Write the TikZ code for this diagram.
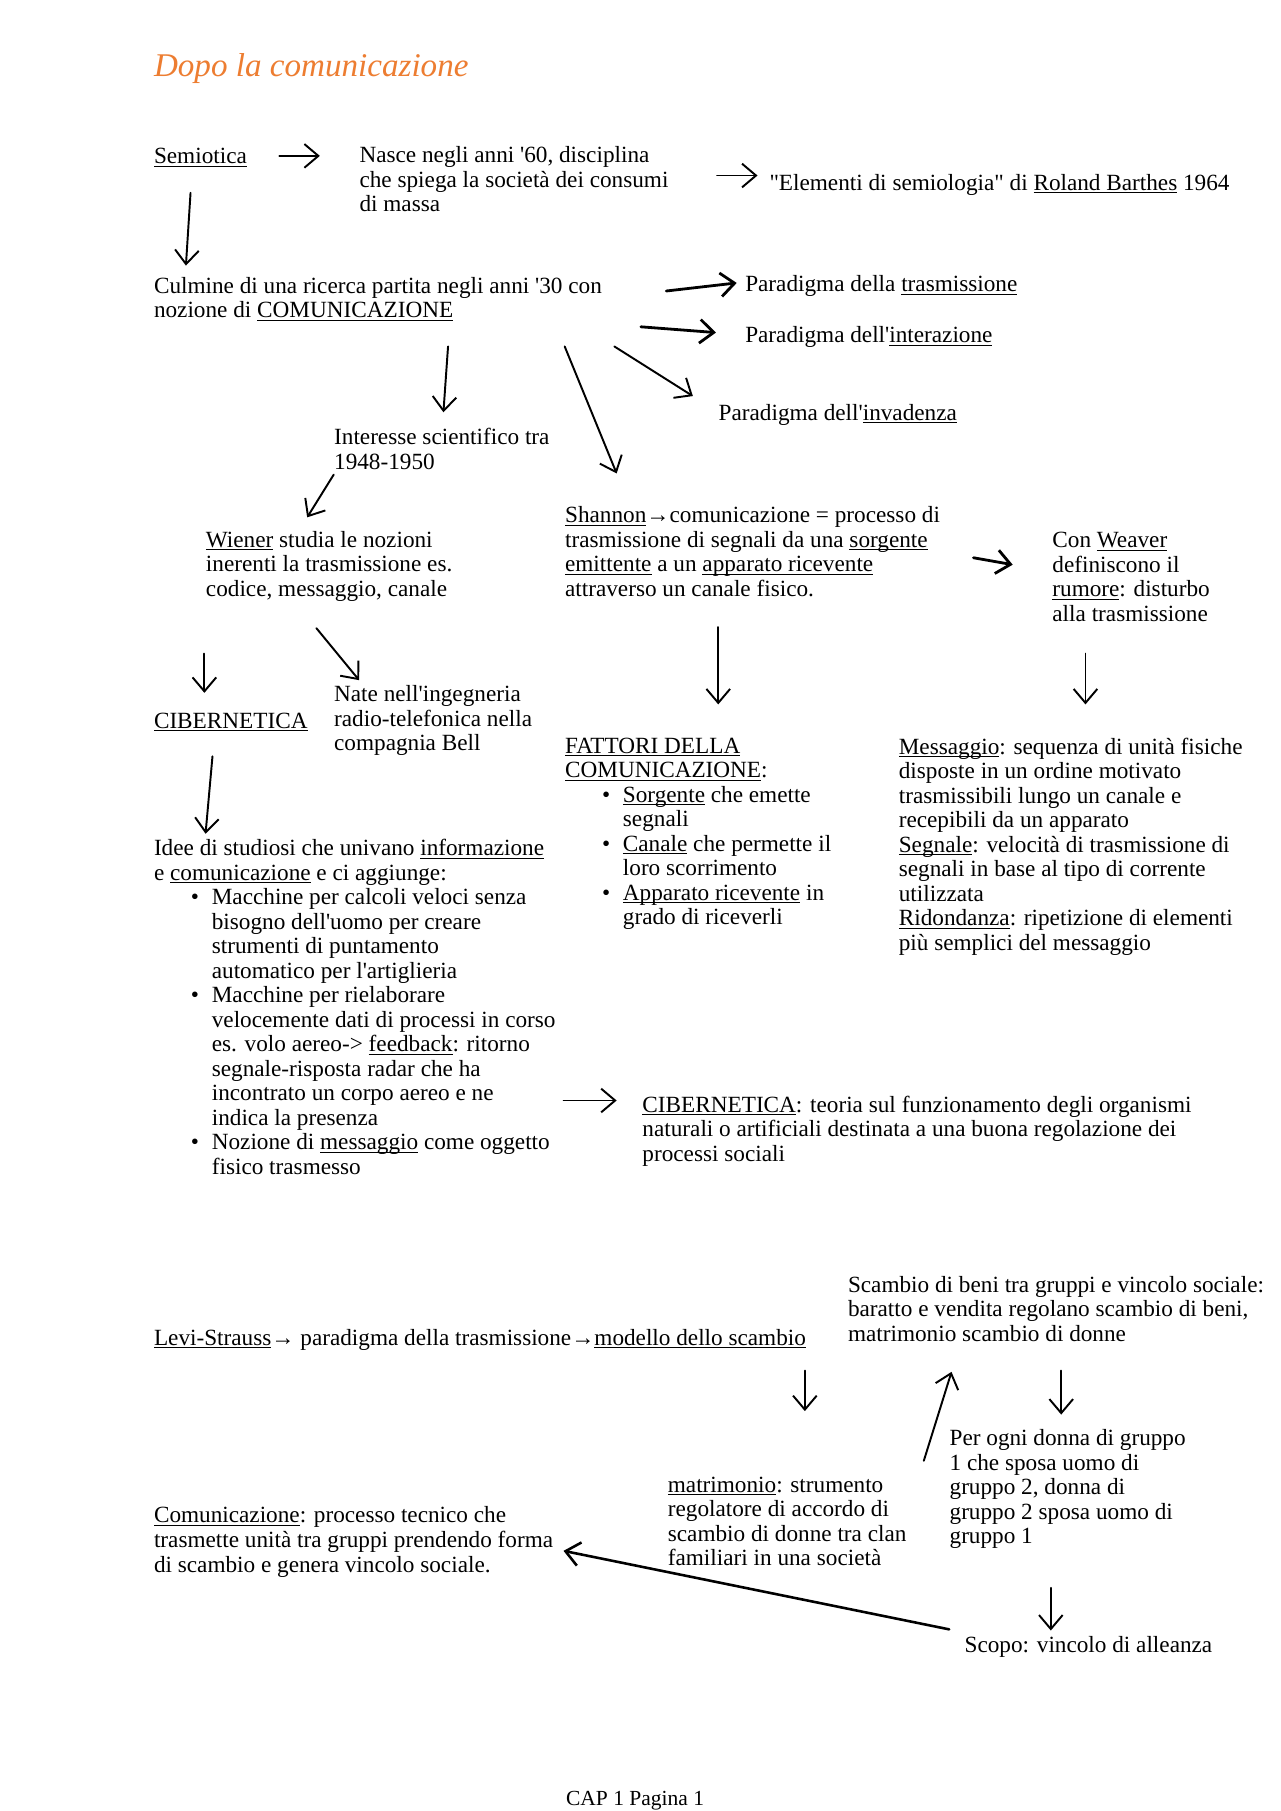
\documentclass[tikz,border=0pt]{standalone}
\usepackage{fontspec}
\setmainfont{Liberation Serif}[Ligatures=TeXOff]
\usetikzlibrary{arrows.meta}

\definecolor{titleorange}{RGB}{237,125,49}
% bullet lines and their continuation lines
\newcommand{\bpt}{\hspace*{17.2pt}\makebox[9.7pt][l]{\textbullet}}
\newcommand{\bcont}{\hspace*{26.9pt}}
% underline close to the baseline
\newcommand{\uln}[1]{\leavevmode\setbox0\hbox{#1}\rlap{\rule[-1.4pt]{\wd0}{0.5pt}}\box0\relax}

\tikzset{
  txt/.style={anchor=north west, inner sep=0pt, align=left, yshift=-1.9pt,
    font=\fontsize{10.8}{11.4}\selectfont, execute at begin node=\strut},
  arr/.style={line width=0.9pt, line cap=round, ->},
}

\begin{document}
\begin{tikzpicture}[x=0.5371pt, y=-0.5371pt, >={Straight Barb[length=6.5pt,width=11pt]}]
\useasboundingbox[fill=white] (0,0) rectangle (1108.5,1568.3);

% title
\node[anchor=base west, inner sep=0pt, text=titleorange,
  font=\fontsize{15.4}{18}\itshape] (title) at (133,66) {Dopo la comunicazione};

% upper map
\node[txt] (semiotica) at (133,123) {\uln{Semiotica}};
\node[txt] (nasce) at (311,123) {Nasce negli anni '60, disciplina\\che spiega la società dei consumi\\di massa};
\node[txt] (barthes) at (666,146) {"Elementi di semiologia" di \uln{Roland Barthes} 1964};
\node[txt] (culmine) at (133,236) {Culmine di una ricerca partita negli anni '30 con\\nozione di \uln{COMUNICAZIONE}};
\node[txt] (ptrasm) at (645,234) {Paradigma della \uln{trasmissione}};
\node[txt] (pinter) at (645,278) {Paradigma dell'\uln{interazione}};
\node[txt] (pinvad) at (622,345) {Paradigma dell'\uln{invadenza}};
\node[txt] (interesse) at (289,367) {Interesse scientifico tra\\1948-1950};
\node[txt] (wiener) at (178,456) {\uln{Wiener} studia le nozioni\\inerenti la trasmissione es.\\codice, messaggio, canale};
\node[txt] (shannon) at (489,435) {\uln{Shannon}→comunicazione = processo di\\trasmissione di segnali da una \uln{sorgente}\\\uln{emittente} a un \uln{apparato ricevente}\\attraverso un canale fisico.};
\node[txt] (weaver) at (911,457) {Con \uln{Weaver}\\definiscono il\\\uln{rumore}: disturbo\\alla trasmissione};
\node[txt] (cibern) at (133,612) {\uln{CIBERNETICA}};
\node[txt] (nate) at (289,590) {Nate nell'ingegneria\\radio-telefonica nella\\compagnia Bell};
\node[txt] (fattori) at (489,635) {\uln{FATTORI DELLA}\\\uln{COMUNICAZIONE}:\\
  \bpt\uln{Sorgente} che emette\\\bcont segnali\\
  \bpt\uln{Canale} che permette il\\\bcont loro scorrimento\\
  \bpt\uln{Apparato ricevente} in\\\bcont grado di riceverli};
\node[txt] (messaggio) at (778,635) {\uln{Messaggio}: sequenza di unità fisiche\\disposte in un ordine motivato\\trasmissibili lungo un canale e\\recepibili da un apparato\\
  \uln{Segnale}: velocità di trasmissione di\\segnali in base al tipo di corrente\\utilizzata\\
  \uln{Ridondanza}: ripetizione di elementi\\più semplici del messaggio};
\node[txt] (idee) at (133,723) {Idee di studiosi che univano \uln{informazione}\\e \uln{comunicazione} e ci aggiunge:\\
  \bpt Macchine per calcoli veloci senza\\\bcont bisogno dell'uomo per creare\\\bcont strumenti di puntamento\\\bcont automatico per l'artiglieria\\
  \bpt Macchine per rielaborare\\\bcont velocemente dati di processi in corso\\\bcont es. volo aereo-> \uln{feedback}: ritorno\\\bcont segnale-risposta radar che ha\\\bcont incontrato un corpo aereo e ne\\\bcont indica la presenza\\
  \bpt Nozione di \uln{messaggio} come oggetto\\\bcont fisico trasmesso};
\node[txt] (cibdef) at (556,945) {\uln{CIBERNETICA}: teoria sul funzionamento degli organismi\\naturali o artificiali destinata a una buona regolazione dei\\processi sociali};

% lower map
\node[txt] (levi) at (133,1146) {\uln{Levi-Strauss}→ paradigma della trasmissione→\uln{modello dello scambio}};
\node[txt] (scambio) at (734,1101) {Scambio di beni tra gruppi e vincolo sociale:\\baratto e vendita regolano scambio di beni,\\matrimonio scambio di donne};
\node[txt] (matrim) at (578,1275) {\uln{matrimonio}: strumento\\regolatore di accordo di\\scambio di donne tra clan\\familiari in una società};
\node[txt] (perogni) at (822,1234) {Per ogni donna di gruppo\\1 che sposa uomo di\\gruppo 2, donna di\\gruppo 2 sposa uomo di\\gruppo 1};
\node[txt] (scopo) at (835,1412) {Scopo: vincolo di alleanza};
\node[txt] (comun) at (133,1301) {\uln{Comunicazione}: processo tecnico che\\trasmette unità tra gruppi prendendo forma\\di scambio e genera vincolo sociale.};

\node[txt, anchor=north, font=\fontsize{10}{11.4}\selectfont] (footer) at (550,1545) {CAP 1 Pagina 1};

% arrow ends
\coordinate (semi-r) at (242,135);   \coordinate (nasce-l) at (277,135);
\coordinate (nasce-r) at (621,152);  \coordinate (barthes-l) at (656,152);
\coordinate (semi-b) at (165,167);   \coordinate (culmine-t) at (161,230);
\coordinate (cul-r1) at (577,252);   \coordinate (ptrasm-l) at (638,245);
\coordinate (cul-r2) at (555,283);   \coordinate (pinter-l) at (620,288);
\coordinate (cul-r3) at (532,300);   \coordinate (pinvad-l) at (600,343);
\coordinate (cul-b1) at (388,300);   \coordinate (interesse-t) at (384,357);
\coordinate (cul-b2) at (489,300);   \coordinate (shannon-t) at (534,410);
\coordinate (interesse-b) at (289,411); \coordinate (wiener-t) at (266,448);
\coordinate (shannon-r) at (843,483); \coordinate (weaver-l) at (877,489);
\coordinate (wiener-b1) at (177,566); \coordinate (cibern-t) at (177,600);
\coordinate (wiener-b2) at (274,544); \coordinate (nate-t) at (311,589);
\coordinate (shannon-b) at (622,543); \coordinate (fattori-t) at (622,610);
\coordinate (weaver-b) at (940,566);  \coordinate (messaggio-t) at (940,610);
\coordinate (cibern-b) at (184,655);  \coordinate (idee-t) at (178,722);
\coordinate (idee-r) at (488,953);    \coordinate (cibdef-l) at (534,953);
\coordinate (levi-b) at (697,1187);   \coordinate (matrim-t) at (697,1222);
\coordinate (perogni-l) at (800,1265); \coordinate (scambio-b1) at (824,1188);
\coordinate (scambio-b2) at (919,1187); \coordinate (perogni-t) at (919,1225);
\coordinate (perogni-b) at (910,1375); \coordinate (scopo-t) at (910,1412);
\coordinate (scopo-l) at (822,1411);  \coordinate (comun-r) at (488,1343);

\draw[arr] (semi-r) -- (nasce-l);
\draw[arr] (nasce-r) -- (barthes-l);
\draw[arr] (semi-b) -- (culmine-t);
\draw[arr, line width=1.3pt] (cul-r1) -- (ptrasm-l);
\draw[arr, line width=1.3pt] (cul-r2) -- (pinter-l);
\draw[arr] (cul-r3) -- (pinvad-l);
\draw[arr] (cul-b1) -- (interesse-t);
\draw[arr] (cul-b2) -- (shannon-t);
\draw[arr] (interesse-b) -- (wiener-t);
\draw[arr, line width=1.3pt] (shannon-r) -- (weaver-l);
\draw[arr] (wiener-b1) -- (cibern-t);
\draw[arr] (wiener-b2) -- (nate-t);
\draw[arr] (shannon-b) -- (fattori-t);
\draw[arr] (weaver-b) -- (messaggio-t);
\draw[arr] (cibern-b) -- (idee-t);
\draw[arr] (idee-r) -- (cibdef-l);
\draw[arr] (levi-b) -- (matrim-t);
\draw[arr] (perogni-l) -- (scambio-b1);
\draw[arr] (scambio-b2) -- (perogni-t);
\draw[arr] (perogni-b) -- (scopo-t);
\draw[arr, line width=1.2pt] (scopo-l) -- (comun-r);

\end{tikzpicture}
\end{document}
